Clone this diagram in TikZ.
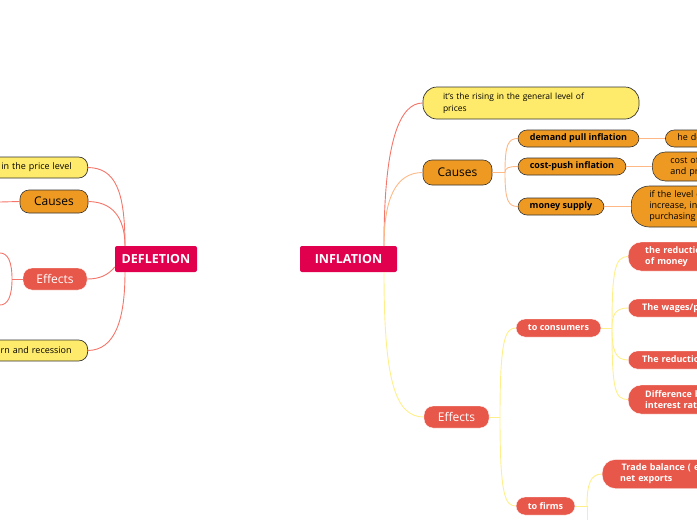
\documentclass[tikz,border=0pt]{standalone}
\usepackage{fontspec}
\setmainfont{Open Sans}
\begin{document}
\begin{tikzpicture}[x=1pt,y=-1pt,
  base/.style={rounded corners=9pt,inner sep=0pt,font=\fontsize{9}{11}\selectfont,align=left},
  root/.style={base,rounded corners=2pt,fill=rootc,text=white,font=\bfseries\fontsize{12.5}{14}\selectfont,minimum height=26pt},
  yel/.style={base,fill=yelc,draw=black!80,line width=0.7pt},
  ora/.style={base,fill=orac,draw=black!80,line width=0.6pt},
  orab/.style={ora,font=\bfseries\fontsize{9}{11}\selectfont,minimum height=17pt},
  red/.style={base,fill=redc,draw=white,text=white,font=\bfseries\fontsize{9}{11}\selectfont},
  lnr/.style={draw=linr,line width=0.9pt},
  lno/.style={draw=lino,line width=0.9pt},
  lny/.style={draw=liny,line width=0.9pt},
]
\definecolor{rootc}{HTML}{E0004D}
\definecolor{yelc}{HTML}{FFEB6B}
\definecolor{orac}{HTML}{EE9A22}
\definecolor{redc}{HTML}{E8584A}
\definecolor{linr}{HTML}{F4756A}
\definecolor{lino}{HTML}{FDB886}
\definecolor{liny}{HTML}{FFEF8A}
\useasboundingbox (0,0) rectangle (697,520);
\clip (0,0) rectangle (697,520);
% roots
\node[root,minimum width=82pt] (D) at (156,259) {DEFLETION};
\node[root,minimum width=97pt] (I) at (348.5,259) {INFLATION};
% left side
\node[yel,minimum height=21pt,anchor=east,text width=200pt,align=right,inner xsep=16pt] (L1) at (88,167.5) {a general decrease in the price level};
\node[ora,minimum width=68pt,minimum height=23pt,font=\fontsize{12}{14}\selectfont] (LC) at (54,201.5) {Causes};
\node[red,minimum width=64pt,minimum height=22pt,font=\mdseries\fontsize{12}{14}\selectfont] (LE) at (55,279) {Effects};
\node[yel,minimum height=21pt,anchor=east,text width=200pt,align=right,inner xsep=16pt] (L4) at (88,350.5) {economic downturn and recession};
\coordinate (Dt) at (125,246);
\coordinate (Db) at (125,272);
\draw[lnr] (Dt) .. controls (125,190) and (115,168) .. (L1.east);
\draw[lnr] (Dt) .. controls (125,225) and (118,202) .. (LC.east);
\draw[lnr] (D.west) ++(0,8) .. controls (108,275) and (100,279) .. (LE.east);
\draw[lnr] (Db) .. controls (125,320) and (115,350) .. (L4.east);
\draw[lnr] (LC.west) -- (0,202);
\draw[lnr] (LE.west) -- (12,279);
\draw[lnr] (12,279) .. controls (12,262) and (8,253) .. (0,253);
\draw[lnr] (12,279) .. controls (12,296) and (8,305) .. (0,305);
% right side
\node[yel,minimum width=216pt,minimum height=32pt,text width=176pt,inner xsep=20pt,rounded corners=14pt,font=\fontsize{8.5}{12}\selectfont] (R1) at (531,103) {it's the rising in the general level of\\prices};
\node[ora,minimum width=69pt,minimum height=25pt,font=\fontsize{12}{14}\selectfont] (RC) at (457.5,172.5) {Causes};
\node[red,minimum width=65pt,minimum height=22pt,font=\mdseries\fontsize{12}{14}\selectfont] (RE) at (456.5,417) {Effects};
\coordinate (It) at (384,246);
\coordinate (Ib) at (384,272);
\draw[lnr] (It) .. controls (384,140) and (400,103) .. (R1.west);
\draw[lno] (It) .. controls (384,200) and (395,172.5) .. (RC.west);
\draw[lny] (Ib) .. controls (384,380) and (395,417) .. (RE.west);
% causes children
\node[orab,minimum width=121pt] (C1) at (578.5,138.5) {demand pull inflation};
\node[orab,minimum width=108pt] (C2) at (572,166.5) {cost-push inflation};
\node[orab,minimum width=86pt] (C3) at (561,206.5) {money supply};
\coordinate (Cb) at (505,172.5);
\draw[lno] (RC.east) -- (Cb);
\draw[lno] (Cb) .. controls (505,145) and (508,138.5) .. (C1.west);
\draw[lno] (Cb) .. controls (505,168) and (508,166.5) .. (C2.west);
\draw[lno] (Cb) .. controls (505,200) and (508,206.5) .. (C3.west);
\node[ora,anchor=west,minimum height=17pt,text width=200pt,inner xsep=12pt] (C1a) at (665,138.5) {he demand is higher than supply};
\node[ora,anchor=west,minimum height=29pt,text width=200pt,inner xsep=18pt,rounded corners=13pt] (C2a) at (652,166.5) {cost of production increases\\and prices rise};
\node[ora,anchor=west,minimum height=41pt,text width=200pt,inner xsep=18pt,rounded corners=18pt] (C3a) at (631,206.5) {if the level of money supply\\increase, inflation reduces the\\purchasing power};
\draw[lno] (C1.east) -- (C1a.west);
\draw[lno] (C2.east) -- (C2a.west);
\draw[lno] (C3.east) -- (C3a.west);
% effects children
\node[red,minimum width=85pt,minimum height=18pt] (E1) at (558.5,328) {to consumers};
\node[red,minimum width=59pt,minimum height=18pt] (E2) at (545.5,506) {to firms};
\coordinate (Eb) at (500,417);
\draw[lny] (RE.east) -- (Eb);
\draw[lny] (Eb) .. controls (500,340) and (505,328) .. (E1.west);
\draw[lny] (Eb) .. controls (500,495) and (505,506) .. (E2.west);
\coordinate (Fb) at (612,328);
\draw[lny] (E1.east) -- (Fb);
\node[red,anchor=west,minimum height=29pt,text width=200pt,inner xsep=17pt,rounded corners=13pt] (F1) at (628,256.5) {the reduction of the value\\of money};
\node[red,anchor=west,minimum height=18pt,text width=200pt,inner xsep=14pt] (F2) at (628,308) {The wages/prices spiral};
\node[red,anchor=west,minimum height=18pt,text width=200pt,inner xsep=14pt] (F3) at (628,360) {The reduction of savings};
\node[red,anchor=west,minimum height=29pt,text width=200pt,inner xsep=17pt,rounded corners=13pt] (F4) at (628,399.5) {Difference between nominal and\\interest rates};
\draw[lny] (Fb) .. controls (612,270) and (615,256.5) .. (F1.west);
\draw[lny] (Fb) .. controls (612,315) and (615,308) .. (F2.west);
\draw[lny] (Fb) .. controls (612,350) and (615,360) .. (F3.west);
\draw[lny] (Fb) .. controls (612,390) and (615,399.5) .. (F4.west);
\coordinate (Gb) at (587,506);
\draw[lny] (E2.east) -- (Gb);
\node[red,anchor=west,minimum height=29pt,text width=200pt,inner xsep=18pt,rounded corners=13pt] (G1) at (602,474) {\,Trade balance ( exports -- imports)\\net exports};
\draw[lny] (Gb) .. controls (587,485) and (590,474) .. (G1.west);
\coordinate (Gd) at (587,520);
\draw[lny] (Gb) -- (Gd);
\end{tikzpicture}
\end{document}
